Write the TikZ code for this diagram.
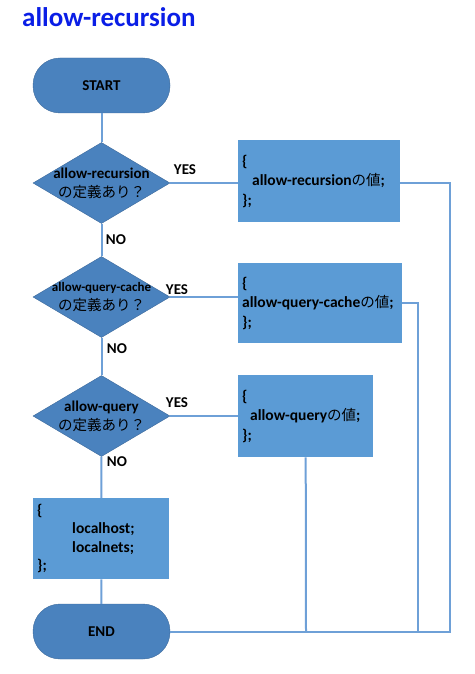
\documentclass[tikz,border=0pt]{standalone}
\usepackage{fontspec}
\setmainfont{Carlito}
\newfontfamily\jpfont{Noto Sans CJK JP}
\usetikzlibrary{shapes.geometric}
\definecolor{termblue}{RGB}{74,130,190}
\definecolor{termedge}{RGB}{60,105,155}
\definecolor{boxblue}{RGB}{91,155,213}
\definecolor{flowline}{RGB}{110,160,215}
\definecolor{titleblue}{RGB}{10,30,230}
\newcommand{\jp}[1]{{\jpfont\mdseries\fontsize{14.5}{18}\selectfont #1}}

\begin{document}
\begin{tikzpicture}[x=1pt,y=-1pt,
        terminal/.style={draw=termedge,fill=termblue,rectangle,rounded corners=27pt,
            minimum width=137pt,minimum height=55pt,font=\bfseries\fontsize{15}{18}\selectfont},
        decision/.style={draw=termedge,fill=termblue,diamond,
            minimum width=137pt,minimum height=81pt,inner sep=0pt},
        dtext/.style={align=center,inner sep=0pt,font=\bfseries\fontsize{15}{19}\selectfont},
        codebox/.style={fill=boxblue,rectangle,anchor=north west,inner sep=4pt,align=left,
            font=\bfseries\fontsize{15.5}{19.5}\selectfont},
        answer/.style={inner sep=0pt,font=\bfseries\fontsize{15}{18}\selectfont},
        flow/.style={draw=flowline,line width=2pt}
    ]
    \useasboundingbox (0,0) rectangle (474,674);

    \node[anchor=base west,inner sep=0pt,text=titleblue,
        font=\bfseries\fontsize{27}{30}\selectfont] (title) at (22,27) {allow-recursion};

    \node[terminal] (start) at (101.5,85.5) {START};

    % decisions
    \node[decision] (d1) at (101.5,183) {};
    \node[dtext] (d1t) at (d1) {allow-recursion\\\jp{の定義あり？}};
    \node[decision] (d2) at (101.5,297) {};
    \node[dtext] (d2t) at (d2) {{\fontsize{13}{19}\selectfont allow-query-cache}\\\jp{の定義あり？}};
    \node[decision] (d3) at (101.5,416) {};
    \node[dtext] (d3t) at (d3) {allow-query\\\jp{の定義あり？}};

    % values
    \node[codebox,text width=154pt,minimum height=82pt] (b1) at (238,140)
        {\{\\\hspace*{10pt}allow-recursion\jp{の値};\\\};};
    \node[codebox,text width=156pt,minimum height=80pt] (b2) at (238,263)
        {\{\\allow-query-cache\jp{の値};\\\};};
    \node[codebox,text width=127pt,minimum height=82pt] (b3) at (238,375)
        {\{\\\hspace*{8pt}allow-query\jp{の値};\\\};};
    \node[codebox,text width=128pt,minimum height=81pt,
        font=\bfseries\fontsize{15.5}{18.5}\selectfont] (b4) at (33,498)
        {\{\\\hspace*{35pt}localhost;\\\hspace*{35pt}localnets;\\\};};

    \node[terminal] (end) at (101.5,631.5) {END};

    % labels
    \node[answer] (yes1) at (185,170) {YES};
    \node[answer] (yes2) at (177,290) {YES};
    \node[answer] (yes3) at (177,403) {YES};
    \node[answer] (no1) at (116,240) {NO};
    \node[answer] (no2) at (117,349) {NO};
    \node[answer] (no3) at (117,462) {NO};

    \coordinate (rail1) at (450,631.5);
    \coordinate (rail2) at (418,631.5);
    \coordinate (rail3) at (306,631.5);

    % connectors
    \draw[flow] (start) -- (d1);
    \draw[flow] (d1) -- (d2);
    \draw[flow] (d2) -- (d3);
    \draw[flow] (d3) -- (b4);
    \draw[flow] (b4) -- (end);
    \foreach \i in {1,2,3} {
        \draw[flow] (d\i.east) -- (d\i.east -| b\i.west);
    }
    \draw[flow] (d1.east -| b1.east) -| (rail1) -- (end.east);
    \draw[flow] (b2.east) -| (rail2);
    \draw[flow] (b3.south) -- (rail3);
\end{tikzpicture}
\end{document}
